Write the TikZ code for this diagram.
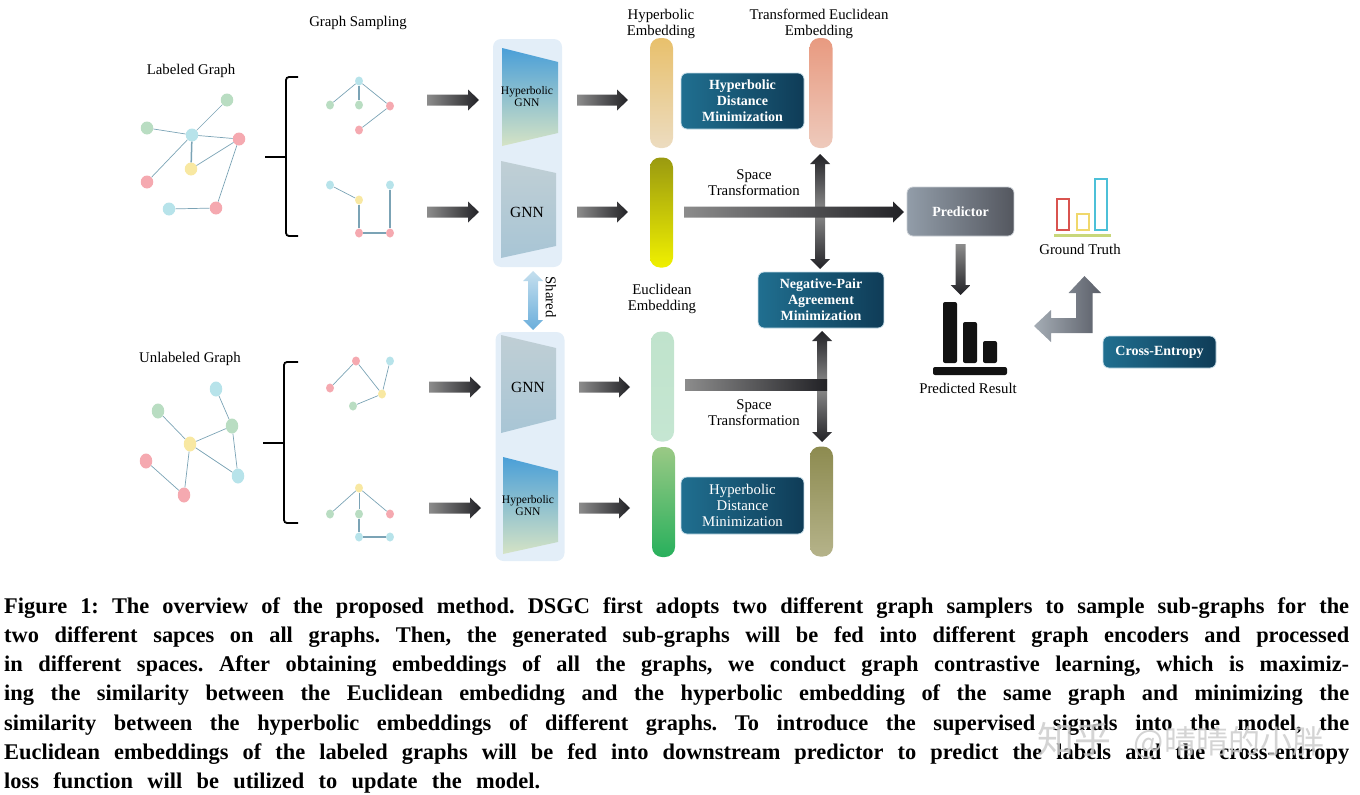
\documentclass[tikz,border=0pt]{standalone}
\usepackage{fontspec}
\setmainfont{Liberation Serif}
\newfontfamily\cjk{Noto Sans CJK SC}
\usetikzlibrary{calc,shapes.geometric}

\definecolor{vgreen}{HTML}{B9DDC2}
\definecolor{vblue}{HTML}{B7E3EA}
\definecolor{vpink}{HTML}{F5A9B0}
\definecolor{vyellow}{HTML}{F8E8A2}
\definecolor{gline}{HTML}{7BA3B5}
\definecolor{panelblue}{HTML}{E3EEF8}
\definecolor{hgnntop}{HTML}{4A9FD8}
\definecolor{hgnnbot}{HTML}{D5E3C5}
\definecolor{gnntop}{HTML}{C0CFD5}
\definecolor{gnnbot}{HTML}{A8C5D5}
\definecolor{boxleft}{HTML}{206F90}
\definecolor{boxright}{HTML}{0F3C57}
\definecolor{boxedge}{HTML}{C5DDE8}
\definecolor{predleft}{HTML}{929DA9}
\definecolor{predright}{HTML}{54575F}
\definecolor{arrlight}{HTML}{8C8C8C}
\definecolor{arrdark}{HTML}{222226}
\definecolor{sharetop}{HTML}{C5DFEE}
\definecolor{sharebot}{HTML}{6AAEDB}
\definecolor{elbowleft}{HTML}{A5ADB5}
\definecolor{elbowright}{HTML}{5A5E68}
\definecolor{truthred}{HTML}{D9534F}
\definecolor{truthyellow}{HTML}{F0D86C}
\definecolor{truthblue}{HTML}{4CC0D8}
\definecolor{truthbase}{HTML}{C8D77A}

\newcommand{\labfont}{\fontsize{14.8}{16}\selectfont}
\newcommand{\boldfont}{\fontsize{14}{16}\selectfont\bfseries}
\newcommand{\gnnfont}{\fontsize{11.6}{12}\selectfont}
\newcommand{\capline}[1]{\makebox[1345pt][s]{#1}}

\tikzset{
  every node/.style={font=\labfont,inner sep=0pt},
  bigv/.style={ellipse,minimum width=12.5pt,minimum height=13pt},
  smallv/.style={ellipse,minimum width=8pt,minimum height=9pt},
  gedge/.style={draw=gline,line width=0.7pt},
  gedgethick/.style={draw=gline,line width=1.5pt},
  curly/.style={draw=black,line width=1.8pt,rounded corners=3pt},
  panelbox/.style={rectangle,fill=panelblue,rounded corners=8pt,minimum width=69pt},
  embbar/.style={rectangle,rounded corners=10pt,minimum width=23pt,minimum height=110pt},
  lossbox/.style={rectangle,rounded corners=6pt,left color=boxleft,right color=boxright,
    draw=boxedge,line width=0.8pt,text=white,align=center},
  rarrow/.style={left color=arrlight,right color=arrdark,to path={
    ($(\tikztostart)+(0,-5.5)$) -- ($(\tikztotarget)+(-11,-5.5)$) -- ($(\tikztotarget)+(-11,-10.5)$)
    -- (\tikztotarget) -- ($(\tikztotarget)+(-11,10.5)$) -- ($(\tikztotarget)+(-11,5.5)$)
    -- ($(\tikztostart)+(0,5.5)$) -- cycle}},
  darrow/.style={top color=arrlight,bottom color=arrdark,to path={
    ($(\tikztostart)+(-5,0)$) -- ($(\tikztotarget)+(-5,-10)$) -- ($(\tikztotarget)+(-10,-10)$)
    -- (\tikztotarget) -- ($(\tikztotarget)+(10,-10)$) -- ($(\tikztotarget)+(5,-10)$)
    -- ($(\tikztostart)+(5,0)$) -- cycle}},
  bothvarrow/.style={to path={
    ($(\tikztostart)+(-5,10)$) -- ($(\tikztostart)+(-10,10)$) -- (\tikztostart)
    -- ($(\tikztostart)+(10,10)$) -- ($(\tikztostart)+(5,10)$)
    -- ($(\tikztotarget)+(5,-10)$) -- ($(\tikztotarget)+(10,-10)$) -- (\tikztotarget)
    -- ($(\tikztotarget)+(-10,-10)$) -- ($(\tikztotarget)+(-5,-10)$) -- cycle}},
}

\begin{document}
\begin{tikzpicture}[x=1pt,y=-1pt]
  \useasboundingbox (0,0) rectangle (1360,795);

  \node (lblLabeled) at (191,71){Labeled Graph};
  \node (lblSampling) at (358,23){Graph Sampling};
  \node (lblUnlabeled) at (190,359){Unlabeled Graph};

  % labeled graph and its samples
  \foreach \name/\x/\y/\col in {a_1/227/100/vgreen,a_2/147/128/vgreen,a_3/192/135/vblue,a_4/239/139/vpink,
      a_5/191/169/vyellow,a_6/147/182/vpink,a_7/169/209/vblue,a_8/216/208/vpink}
    \node[bigv,fill=\col] (\name) at (\x,\y) {};
  \foreach \name/\x/\y/\col in {b_1/359/81/vblue,b_2/330/105/vgreen,b_3/359/105/vgreen,b_4/390/106/vpink,
      b_5/359/130/vpink,c_1/330/185/vblue,c_2/390/185/vblue,c_3/359/200/vyellow,c_4/359/233/vpink,c_5/390/233/vpink}
    \node[smallv,fill=\col] (\name) at (\x,\y) {};
  \foreach \from/\to in {a_3/a_1,a_3/a_2,a_3/a_4,a_3/a_6,a_5/a_4,a_4/a_8,a_7/a_8,b_1/b_2,b_1/b_4,b_4/b_5,c_1/c_3}
    \draw[gedge] (\from) -- (\to);
  \foreach \from/\to in {a_3/a_5,b_1/b_3,c_3/c_4,c_4/c_5,c_5/c_2}
    \draw[gedgethick] (\from) -- (\to);

  % unlabeled graph and its samples
  \foreach \name/\x/\y/\col in {d_1/216/389/vblue,d_2/158/411/vgreen,d_3/232/426/vgreen,d_4/190/444/vyellow,
      d_5/146/461/vpink,d_6/238/476/vblue,d_7/184/495/vpink}
    \node[bigv,minimum height=15pt,fill=\col] (\name) at (\x,\y) {};
  \foreach \name/\x/\y/\col in {e_1/356/361/vpink,e_2/390/361/vblue,e_3/330/388/vpink,e_4/382/394/vyellow,
      e_5/353/406/vgreen,f_1/359/488/vyellow,f_2/330/514/vgreen,f_3/359/514/vgreen,f_4/390/514/vpink,
      f_5/359/537/vblue,f_6/390/537/vblue}
    \node[smallv,fill=\col] (\name) at (\x,\y) {};
  \foreach \from/\to in {d_1/d_3,d_2/d_4,d_4/d_3,d_4/d_6,d_3/d_6,d_4/d_7,d_5/d_7,e_3/e_1,e_1/e_4,e_2/e_4,e_5/e_4,
      f_1/f_2,f_1/f_4,f_1/f_3}
    \draw[gedge] (\from) -- (\to);
  \foreach \from/\to in {f_3/f_5,f_5/f_6}
    \draw[gedgethick] (\from) -- (\to);

  \draw[curly] (298,77) -- (286,77) -- (286,236) -- (298,236);
  \draw[line width=1.8pt] (265,157) -- (286,157);
  \draw[curly] (298,362) -- (284,362) -- (284,523) -- (298,523);
  \draw[line width=1.8pt] (263,443) -- (284,443);

  % encoders
  \node[panelbox,minimum height=228pt] (panelA) at (527.5,153) {};
  \node[panelbox,minimum height=229pt] (panelB) at (530,446.5) {};
  \shade[top color=hgnntop,bottom color=hgnnbot] (502,48) -- (558,62) -- (558,133) -- (502,146) -- cycle;
  \shade[top color=gnntop,bottom color=gnnbot] (501,161) -- (556,173) -- (556,246) -- (501,258) -- cycle;
  \shade[top color=gnntop,bottom color=gnnbot] (501,335) -- (556,348) -- (556,419) -- (501,433) -- cycle;
  \shade[top color=hgnntop,bottom color=hgnnbot] (503,457) -- (558,471) -- (558,542) -- (503,554) -- cycle;
  \node[font=\gnnfont,align=center] (hgnnA) at (527,97){Hyperbolic\\GNN};
  \node[font=\fontsize{15.5}{16}\selectfont] (gnnA) at (527,212){GNN};
  \node[font=\fontsize{15.5}{16}\selectfont] (gnnB) at (528,387){GNN};
  \node[font=\gnnfont,align=center] (hgnnB) at (528,506){Hyperbolic\\GNN};

  \coordinate (sharedtop) at (533,271);
  \coordinate (sharedbot) at (533,330);
  \shade[bothvarrow,top color=sharetop,bottom color=sharebot] (sharedtop) to (sharedbot);
  \node[rotate=-90] (lblShared) at (551,297){Shared};

  % block arrows into and out of the encoders
  \foreach \y/\dx in {100/0,212/0,387/2,508/2}{
    \coordinate (samplein) at (427+\dx,\y);
    \coordinate (sampleout) at (479+\dx,\y);
    \coordinate (encout) at (577+\dx,\y);
    \coordinate (barin) at (628+\dx,\y);
    \shade[rarrow] (samplein) to (sampleout);
    \shade[rarrow] (encout) to (barin);
  }

  % embeddings
  \node[embbar,top color={rgb,255:red,232;green,192;blue,108},bottom color={rgb,255:red,236;green,220;blue,192}] (hypA) at (661.5,93) {};
  \node[embbar,top color={rgb,255:red,154;green,154;blue,16},bottom color={rgb,255:red,240;green,240;blue,0}] (eucA) at (661.5,212.5) {};
  \node[embbar,top color={rgb,255:red,192;green,227;blue,204},bottom color={rgb,255:red,197;green,230;blue,210}] (eucB) at (662.5,386.5) {};
  \node[embbar,top color={rgb,255:red,154;green,201;blue,133},bottom color={rgb,255:red,40;green,176;blue,92}] (hypB) at (663.5,502) {};
  \node[embbar,top color={rgb,255:red,232;green,154;blue,128},bottom color={rgb,255:red,238;green,202;blue,188}] (transA) at (821,93) {};
  \node[embbar,top color={rgb,255:red,141;green,139;blue,80},bottom color={rgb,255:red,181;green,179;blue,138}] (transB) at (821.5,501.5) {};

  \node[align=center] (lblHypA) at (661,24){Hyperbolic\\Embedding};
  \node[align=center] (lblTrans) at (819,24){Transformed Euclidean\\Embedding};
  \node[align=center] (lblEuc) at (662,299){Euclidean\\Embedding};
  \node[align=center] (lblSpaceA) at (754,182.5){Space\\Transformation};
  \node[align=center] (lblSpaceB) at (754,412.5){Space\\Transformation};

  \node[lossbox,font=\boldfont,minimum width=123pt,minimum height=56pt] (hdmA) at (742.5,101){Hyperbolic\\Distance\\Minimization};
  \node[lossbox,minimum width=123pt,minimum height=57pt] (hdmB) at (742.5,505.5){Hyperbolic\\Distance\\Minimization};
  \node[lossbox,font=\boldfont,minimum width=126pt,minimum height=56pt] (npam) at (821,300){Negative-Pair\\Agreement\\Minimization};
  \node[lossbox,left color=predleft,right color=predright,draw=predleft!50,
    font=\boldfont,minimum width=107pt,minimum height=49pt] (predictor) at (960.5,211.5){Predictor};
  \node[lossbox,font=\boldfont,minimum width=113pt,minimum height=32pt] (xent) at (1159.5,352){Cross-Entropy};

  % connectors of the contrastive part
  \coordinate (transAbot) at (820,154);
  \coordinate (npamtop) at (820,269);
  \coordinate (npambot) at (822,331);
  \coordinate (transBtop) at (822,442);
  \coordinate (eucAout) at (684,212);
  \coordinate (predin) at (904,212);
  \coordinate (eucBout) at (685,385);
  \coordinate (joinB) at (827,385);
  \coordinate (predout) at (960.5,244);
  \coordinate (chartin) at (960.5,295);
  \shade[bothvarrow,top color=arrdark,bottom color=arrdark,middle color=arrlight] (transAbot) to (npamtop);
  \shade[bothvarrow,top color=arrdark,bottom color=arrdark,middle color=arrlight] (npambot) to (transBtop);
  \shade[rarrow] (eucAout) to (predin);
  \shade[left color=arrlight,right color=arrdark] ($(eucBout)+(0,-5.5)$) rectangle ($(joinB)+(0,5.5)$);
  \shade[darrow] (predout) to (chartin);

  % predicted result
  \fill[black!93,rounded corners=2pt] (943,302) rectangle (957,363);
  \fill[black!93,rounded corners=2pt] (963,322) rectangle (977,363);
  \fill[black!93,rounded corners=2pt] (983,341) rectangle (997,363);
  \fill[black!93,rounded corners=2pt] (933,367) rectangle (1007,375);
  \node (lblPredicted) at (968,388){Predicted Result};

  % ground truth
  \draw[line width=2.4pt,draw=truthred] (1057,199) rectangle (1069,230);
  \draw[line width=2.4pt,draw=truthyellow] (1077,214) rectangle (1089,230);
  \draw[line width=2.4pt,draw=truthblue] (1095,179) rectangle (1107,230);
  \fill[truthbase] (1054,234) rectangle (1111,237);
  \node (lblGround) at (1080,249){Ground Truth};

  \shade[left color=elbowleft,right color=elbowright]
    (1084.5,276) -- (1101,293) -- (1092.5,293) -- (1092.5,333) -- (1051,333) -- (1051,342) -- (1034,326)
    -- (1051,310) -- (1051,318) -- (1076,318) -- (1076,293) -- (1068.5,293) -- cycle;

  % caption
  \node[anchor=north west,align=left,font=\fontsize{22.4}{29.15}\selectfont\bfseries\frenchspacing] (caption) at (4,597.5){%
    \capline{Figure 1: The overview of the proposed method. DSGC first adopts two different graph samplers to sample sub-graphs for the}\\
    \capline{two different sapces on all graphs. Then, the generated sub-graphs will be fed into different graph encoders and processed}\\
    \capline{in different spaces. After obtaining embeddings of all the graphs, we conduct graph contrastive learning, which is maximiz-}\\
    \capline{ing the similarity between the Euclidean embedidng and the hyperbolic embedding of the same graph and minimizing the}\\
    \capline{similarity between the hyperbolic embeddings of different graphs. To introduce the supervised signals into the model, the}\\
    \capline{Euclidean embeddings of the labeled graphs will be fed into downstream predictor to predict the labels and the cross-entropy}\\
    \makebox[536pt][s]{loss function will be utilized to update the model.}};

  \node[text=black!20,text opacity=0.85,font=\cjk] (watermark) at (1181,741){{\fontsize{37}{37}\selectfont 知乎}\hspace{22pt}{\fontsize{32}{32}\selectfont @晴晴的小胖}};
\end{tikzpicture}
\end{document}
